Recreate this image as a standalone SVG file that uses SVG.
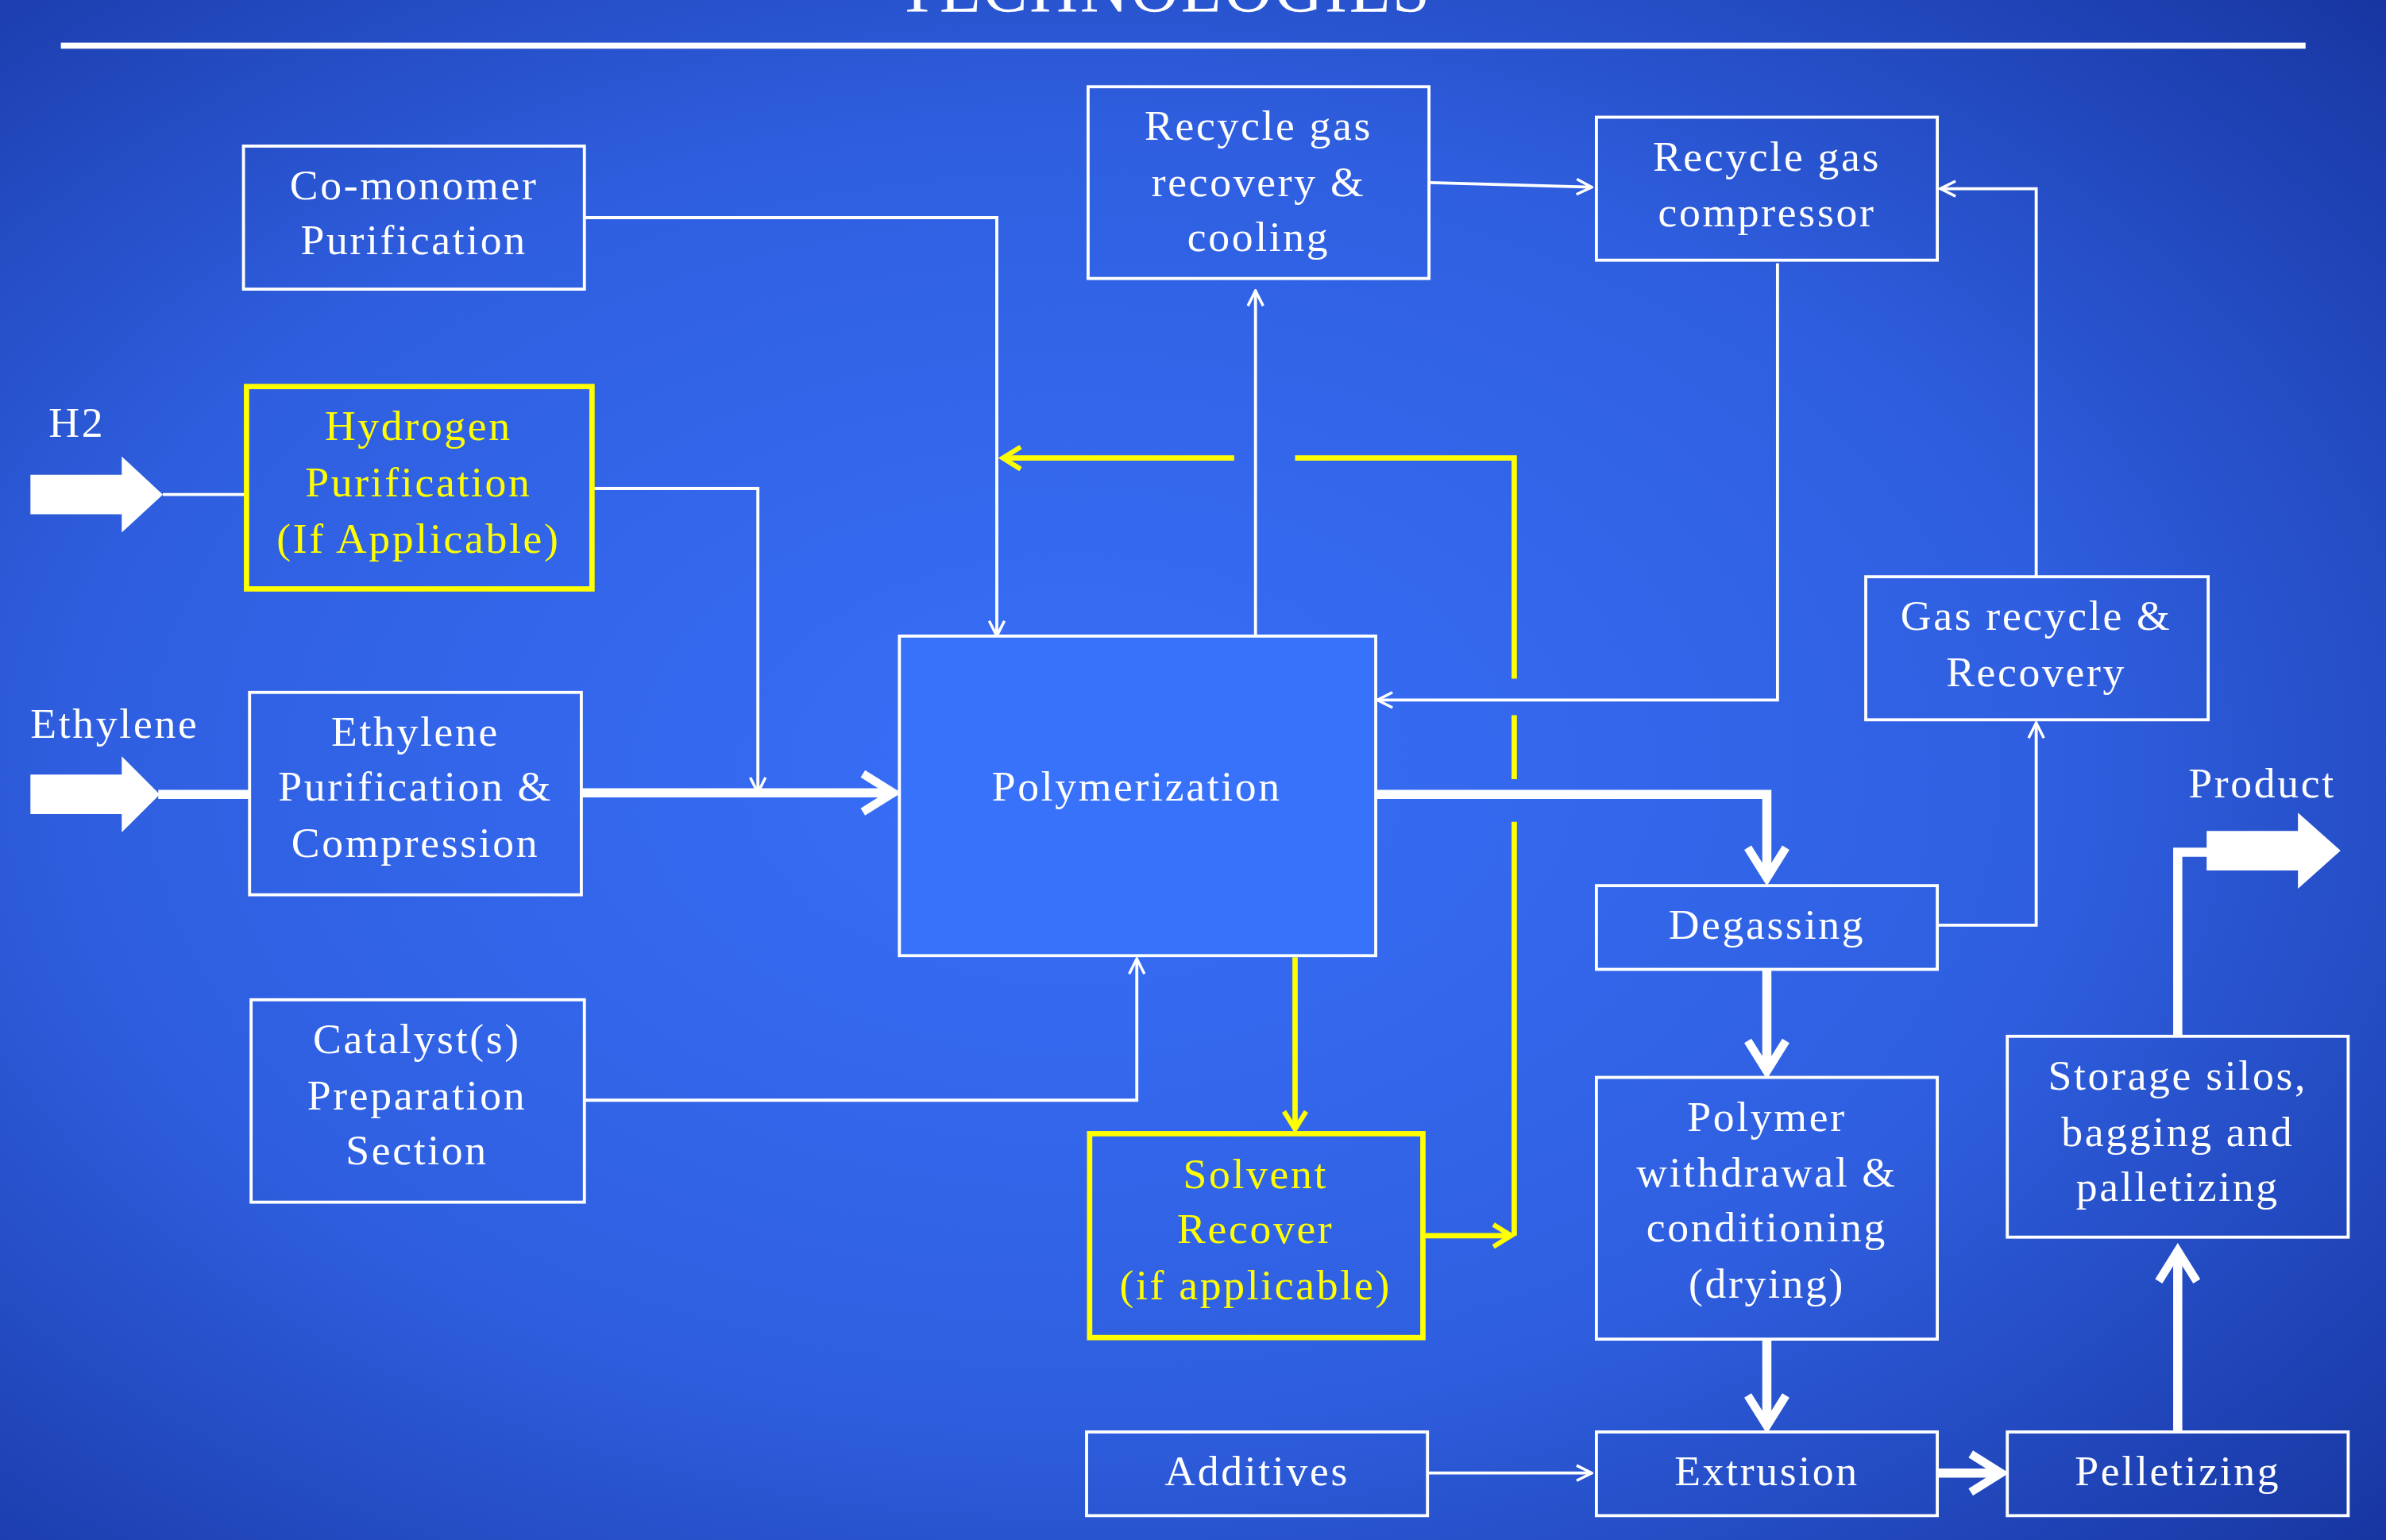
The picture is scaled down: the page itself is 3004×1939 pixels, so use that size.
<svg xmlns="http://www.w3.org/2000/svg" width="3004" height="1939" viewBox="0 0 3004 1939">
<style>
.box{fill:none;stroke:#fff;stroke-width:2}
.ybox{fill:none;stroke:#ffff00;stroke-width:3.5}
.t{font-family:"Liberation Serif",serif;font-size:28px;letter-spacing:1.4px;fill:#fff;text-anchor:middle}
.yt{fill:#ffff00}
.thin{fill:none;stroke:#fff;stroke-width:2}
.thick{fill:none;stroke:#fff;stroke-width:6}
.yl{fill:none;stroke:#ffff00;stroke-width:3.5}
.fat{fill:#fff}
</style>
<defs>
<radialGradient id="bg" cx="0.45" cy="0.5" r="0.75">
<stop offset="0" stop-color="#386ff8"/>
<stop offset="0.55" stop-color="#2f5fe0"/>
<stop offset="1" stop-color="#1735a0"/>
</radialGradient>
<marker id="a" viewBox="0 0 12 12" refX="11" refY="6" markerWidth="12" markerHeight="12" markerUnits="userSpaceOnUse" orient="auto"><path d="M1 1 L11 6 L1 11" fill="none" stroke="#fff" stroke-width="1.8"/></marker>
<marker id="ab" viewBox="0 0 12 12" refX="10" refY="6" markerWidth="5" markerHeight="5" orient="auto"><path d="M2 1 L10 6 L2 11" fill="none" stroke="#fff" stroke-width="2.2"/></marker>
<marker id="ay" viewBox="0 0 12 12" refX="10" refY="6" markerWidth="5" markerHeight="5" orient="auto"><path d="M2 1 L10 6 L2 11" fill="none" stroke="#ffff00" stroke-width="2.2"/></marker>
</defs>
<rect width="3004" height="1939" fill="url(#bg)"/>
<g transform="scale(1.916)">
<text x="765" y="8" class="t" style="font-size:44px">TECHNOLOGIES</text>
<rect x="40" y="28" width="1475" height="4" fill="#fff"/>
<text x="32" y="287" class="t" style="text-anchor:start">H2</text>
<text x="20" y="485" class="t" style="text-anchor:start">Ethylene</text>
<text x="1438" y="524" class="t" style="text-anchor:start">Product</text>

<g id="connectors">
<path class="thin" d="M384 143 H655 V418" marker-end="url(#a)"/>
<path class="thin" d="M389 321 H498 V521" marker-end="url(#a)"/>
<path class="thin" d="M107 325 H162"/>
<path class="fat" d="M20 312 H80 V300 L107 325 L80 350 V338 H20 Z"/>
<path class="fat" d="M20 509 H80 V497 L105 522 L80 547 V535 H20 Z"/>
<path class="thick" d="M104 522 H164"/>
<path class="thick" d="M382 521 H587" marker-end="url(#ab)"/>
<path class="thin" d="M384 723 H747 V630" marker-end="url(#a)"/>
<path class="thin" d="M825 418 V191" marker-end="url(#a)"/>
<path class="thin" d="M939 120 L1046 123" marker-end="url(#a)"/>
<path class="thin" d="M1168 173 V460 H905" marker-end="url(#a)"/>
<path class="thin" d="M1338 379 V124 H1275" marker-end="url(#a)"/>
<path class="thin" d="M1273 608 H1338 V475" marker-end="url(#a)"/>
<path class="thick" d="M904 522 H1161 V577" marker-end="url(#ab)"/>
<path class="thick" d="M1161 637 V704" marker-end="url(#ab)"/>
<path class="thick" d="M1161 880 V937" marker-end="url(#ab)"/>
<path class="thick" d="M1273 968 H1315" marker-end="url(#ab)"/>
<path class="thick" d="M1431 941 V822" marker-end="url(#ab)"/>
<path class="thin" d="M938 968 H1046" marker-end="url(#a)"/>
<path class="thick" d="M1431 681 V560 H1452"/>
<path class="fat" d="M1450 546 H1510 V534 L1538 559 L1510 584 V572 H1450 Z"/>
<path class="yl" d="M851 629 V742" marker-end="url(#ay)"/>
<path class="yl" d="M935 812 H993" marker-end="url(#ay)"/>
<path class="yl" d="M995 812 V540 M995 512 V470 M995 446 V301 H851"/>
<path class="yl" d="M811 301 H659" marker-end="url(#ay)"/>
</g>

<g id="comonomer"><rect class="box" x="160" y="96" width="224" height="94"/><text class="t" x="272" y="131">Co-monomer</text><text class="t" x="272" y="167">Purification</text></g>
<g id="hydrogen"><rect class="ybox" x="162" y="254" width="227" height="133"/><text class="t yt" x="275" y="289">Hydrogen</text><text class="t yt" x="275" y="326">Purification</text><text class="t yt" x="275" y="363">(If Applicable)</text></g>
<g id="ethylene"><rect class="box" x="164" y="455" width="218" height="133"/><text class="t" x="273" y="490">Ethylene</text><text class="t" x="273" y="526">Purification &amp;</text><text class="t" x="273" y="563">Compression</text></g>
<g id="catalyst"><rect class="box" x="165" y="657" width="219" height="133"/><text class="t" x="274" y="692">Catalyst(s)</text><text class="t" x="274" y="729">Preparation</text><text class="t" x="274" y="765">Section</text></g>
<g id="recovery"><rect class="box" x="715" y="57" width="224" height="126"/><text class="t" x="827" y="92">Recycle gas</text><text class="t" x="827" y="129">recovery &amp;</text><text class="t" x="827" y="165">cooling</text></g>
<g id="compressor"><rect class="box" x="1049" y="77" width="224" height="94"/><text class="t" x="1161" y="112">Recycle gas</text><text class="t" x="1161" y="149">compressor</text></g>
<g id="polymerization"><rect class="box" x="591" y="418" width="313" height="210" style="fill:#3872fb"/><text class="t" x="747" y="526">Polymerization</text></g>
<g id="gasrecycle"><rect class="box" x="1226" y="379" width="225" height="94"/><text class="t" x="1338" y="414">Gas recycle &amp;</text><text class="t" x="1338" y="451">Recovery</text></g>
<g id="degassing"><rect class="box" x="1049" y="582" width="224" height="55"/><text class="t" x="1161" y="617">Degassing</text></g>
<g id="withdrawal"><rect class="box" x="1049" y="708" width="224" height="172"/><text class="t" x="1161" y="743">Polymer</text><text class="t" x="1161" y="780">withdrawal &amp;</text><text class="t" x="1161" y="816">conditioning</text><text class="t" x="1161" y="853">(drying)</text></g>
<g id="storage"><rect class="box" x="1319" y="681" width="224" height="132"/><text class="t" x="1431" y="716">Storage silos,</text><text class="t" x="1431" y="753">bagging and</text><text class="t" x="1431" y="789">palletizing</text></g>
<g id="solvent"><rect class="ybox" x="716" y="745" width="219" height="134"/><text class="t yt" x="825" y="781">Solvent</text><text class="t yt" x="825" y="817">Recover</text><text class="t yt" x="825" y="854">(if  applicable)</text></g>
<g id="additives"><rect class="box" x="714" y="941" width="224" height="55"/><text class="t" x="826" y="976">Additives</text></g>
<g id="extrusion"><rect class="box" x="1049" y="941" width="224" height="55"/><text class="t" x="1161" y="976">Extrusion</text></g>
<g id="pelletizing"><rect class="box" x="1319" y="941" width="224" height="55"/><text class="t" x="1431" y="976">Pelletizing</text></g>
</g>
</svg>
